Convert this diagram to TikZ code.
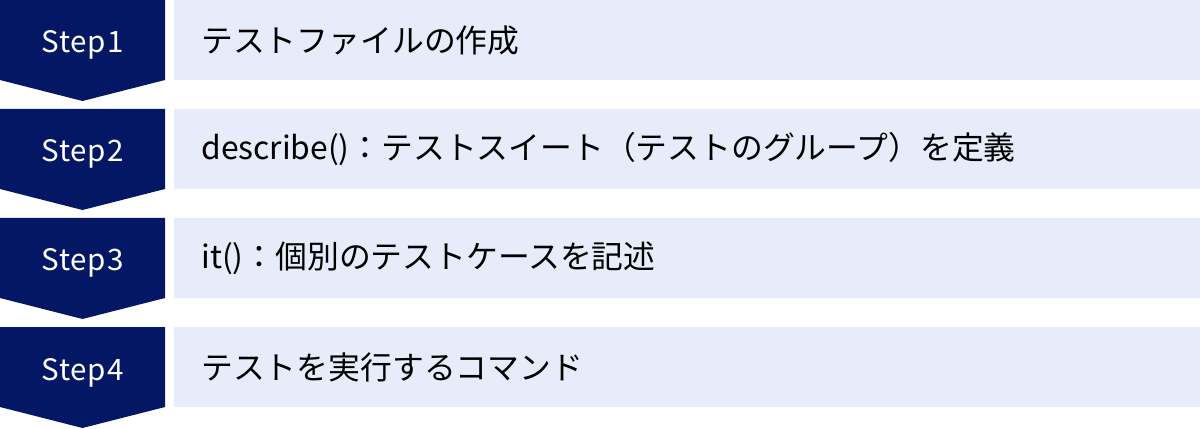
\documentclass[tikz,border=0pt]{standalone}
\usepackage{fontspec}
\setmainfont{Noto Sans CJK JP}
\newfontfamily\stepfont[LetterSpace=3]{Noto Sans CJK JP}
\usetikzlibrary{positioning}

\definecolor{stepnavy}{RGB}{3,23,100}
\definecolor{rowblue}{RGB}{230,236,249}

\tikzset{
	steptag/.style={text=white,anchor=base,inner sep=0pt,
		font=\stepfont\fontsize{16.8}{20}\selectfont},
	rowbox/.style={fill=rowblue,minimum height=1.6cm,minimum width=20.52cm,
		anchor=north west,inner sep=0pt},
	rowtext/.style={font=\fontsize{18.1}{22}\selectfont,anchor=west,inner sep=0pt}
}

\begin{document}
\begin{tikzpicture}
	\useasboundingbox (0,0) rectangle (24,-8.58);
	\foreach \n/\txt in {1/テストファイルの作成,
		2/describe()：テストスイート（テストのグループ）を定義,
		3/it()：個別のテストケースを記述,
		4/テストを実行するコマンド}{
		\pgfmathsetmacro\ytop{-(\n-1)*2.18}
		% step arrow
		\fill[stepnavy] (0,\ytop) -- (3.3,\ytop) -- (3.3,\ytop-1.6)
			-- (1.65,\ytop-2.02) -- (0,\ytop-1.6) -- cycle;
		\node[steptag] (step\n) at (1.65,\ytop-1.06) {Step\n};
		% row
		\node[rowbox] (row\n) at (3.48,\ytop) {};
		\node[rowtext,right=0.54cm of row\n.west] (text\n) {\txt};
	}
\end{tikzpicture}
\end{document}
